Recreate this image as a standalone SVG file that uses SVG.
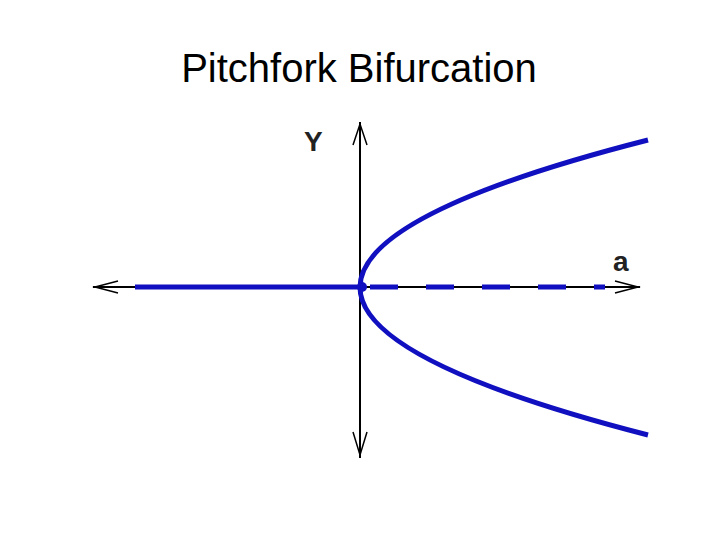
<svg xmlns="http://www.w3.org/2000/svg" width="720" height="540" viewBox="0 0 720 540">
<style>
.ax{stroke:#000;stroke-width:2;fill:none}
.hd{stroke:#000;stroke-width:1.5;fill:none}
.bl{stroke:#1010c0;stroke-width:5;fill:none}
.lb{font-family:"Liberation Sans",Arial,sans-serif;font-weight:bold;fill:#222;font-size:28px}
</style>
<rect width="720" height="540" fill="#fff"/>
<text x="359" y="82" text-anchor="middle" font-family="Liberation Sans,Arial,sans-serif" font-size="40" fill="#000">Pitchfork Bifurcation</text>
<g id="axes">
<line class="ax" x1="360" y1="122" x2="360" y2="458"/>
<line class="ax" x1="93" y1="287" x2="640" y2="287" stroke-width="1.5"/>
<path class="hd" d="M353,145 L360,124 L367,145 M353,432 L360,455 L367,432 M118,281 L95,287 L118,293 M615,281 L638,287 L615,293"/>
</g>
<g id="curves">
<line class="bl" x1="135" y1="287" x2="360" y2="287"/>
<line class="bl" x1="360" y1="287" x2="605" y2="287" stroke-dasharray="28,28" stroke-dashoffset="-10"/>
<path class="bl" d="M648,140 Q72,287 648,435"/>
<circle cx="362" cy="287" r="5" fill="#1010c0"/>
</g>
<text class="lb" x="304" y="151">Y</text>
<text class="lb" x="613" y="271">a</text>
</svg>
